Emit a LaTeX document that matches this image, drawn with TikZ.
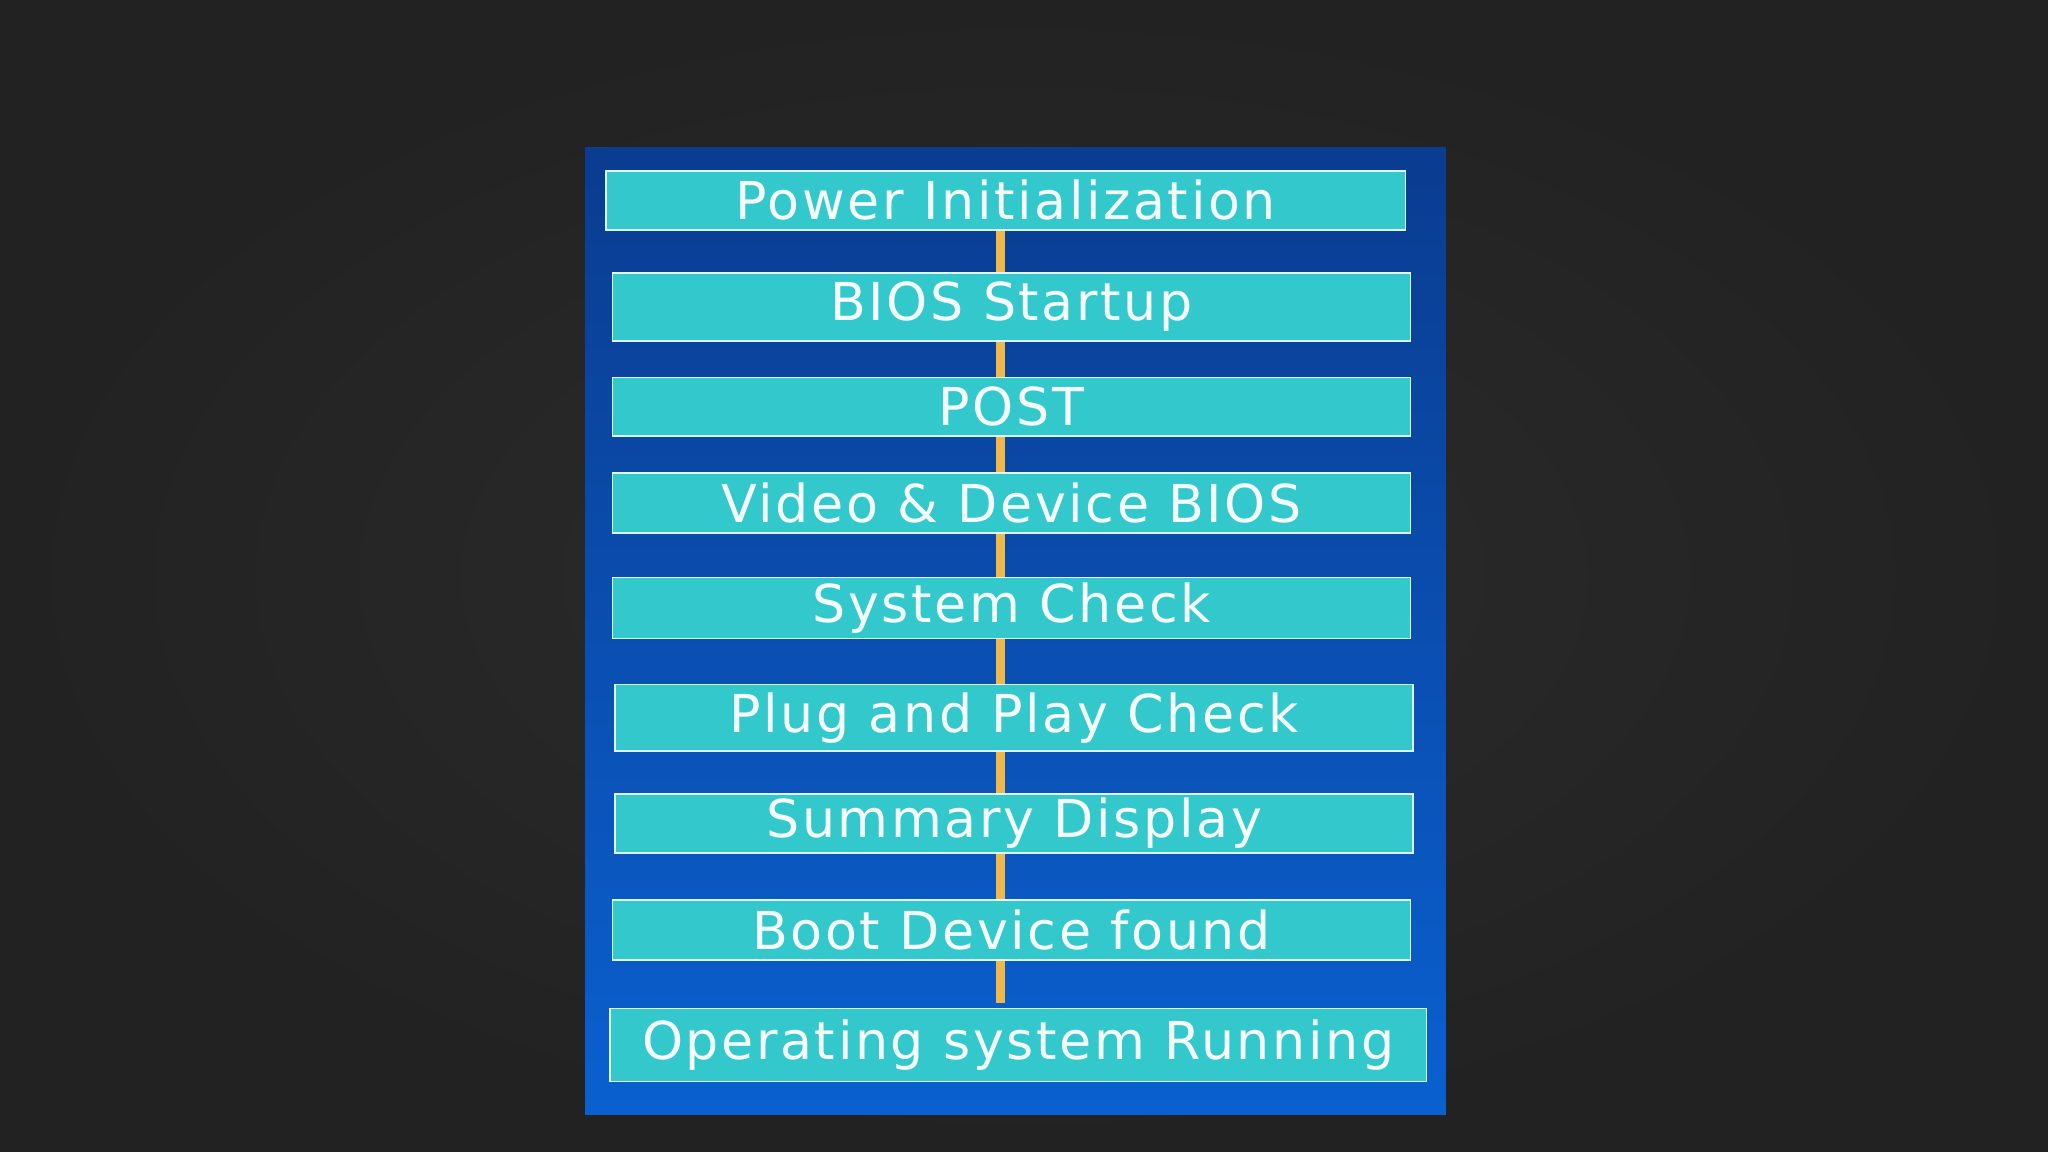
\documentclass[tikz,border=0pt]{standalone}
\usepackage{fontspec}
\setmainfont{DejaVu Sans}[LetterSpace=5]
\definecolor{bgc}{HTML}{222222}
\definecolor{bgl}{HTML}{2C2C2C}
\definecolor{ptop}{HTML}{0A3C90}
\definecolor{pbot}{HTML}{0A60D0}
\definecolor{boxc}{HTML}{33C8CC}
\definecolor{conn}{HTML}{F0B848}
\begin{document}
\begin{tikzpicture}[x=1pt,y=-1pt,
  stepbox/.style={draw=white!85!boxc,line width=1.2pt,fill=boxc,text=white!95!boxc,font=\fontsize{40}{44}\selectfont,inner sep=0pt},
  link/.style={conn,line width=7pt}]
\useasboundingbox (0,0) rectangle (1568,882);
\shade[inner color=bgl,outer color=bgc] (0,0) rectangle (1568,882);
\shade[top color=ptop,bottom color=pbot] (448,113) rectangle (1107,853);
\foreach \i/\xa/\ya/\xb/\yb/\t in {
 1/464/131/1076/176/Power Initialization,
 2/469/209/1080/261/BIOS Startup,
 3/469/289/1080/334/POST,
 4/469/362/1080/408/Video \& Device BIOS,
 5/469/442/1080/489/System Check,
 6/471/524/1082/575/Plug and Play Check,
 7/471/608/1082/653/Summary Display,
 8/469/689/1080/735/Boot Device found,
 9/467/772/1092/828/Operating system Running}
 \node[stepbox,minimum width={\xb-\xa},minimum height={\yb-\ya}] (b\i) at ({(\xa+\xb)/2},{(\ya+\yb)/2}) {\t};
\foreach \a/\b in {1/2,2/3,3/4,4/5,5/6,6/7,7/8}
 \draw[link] (b\a.south -| 766,0) -- (b\b.north -| 766,0);
\coordinate (e) at (766,768);
\draw[link] (b8.south -| 766,0) -- (e);
\end{tikzpicture}
\end{document}
